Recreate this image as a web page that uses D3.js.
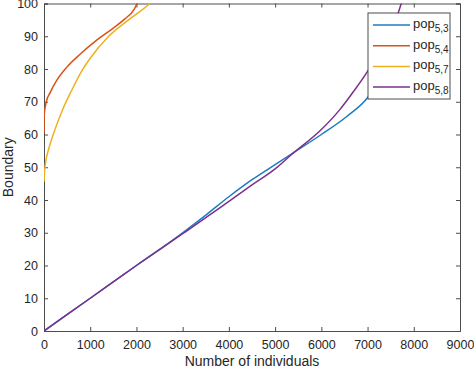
<!DOCTYPE html>
<html>
<head>
<meta charset="utf-8">
<script src="https://cdn.jsdelivr.net/npm/d3@7"></script>
<style>
  body { margin: 0; background: #fff; }
  svg { font-family: "Liberation Sans", Arial, sans-serif; }
</style>
</head>
<body>
<script>
let width = 474;
let height = 369;

// values: [individuals, boundary]
let pop53 = [[0,0],[1000,10],[2000,20],[3000,30],[3500,35.4],[4000,41],[4500,46.2],[5000,50.8],[5350,54],[6000,60],[6550,65.5],[7020,71.6],[7200,75.5]];
let pop54 = [[0,60.5],[5,66],[50,70],[130,72.7],[275,76.5],[490,80.5],[780,84.5],[1140,88.8],[1500,92.5],[1750,95.3],[1950,98.2],[2030,100.5]];
let pop57 = [[0,45.6],[20,50],[100,55.5],[200,60],[400,67.5],[600,73.5],[800,79],[1000,83.3],[1400,90],[1830,95],[2290,100],[2320,100.4]];
let pop58 = [[0,0],[1000,10],[2000,20],[3000,29.7],[3500,34.6],[4000,39.6],[4500,44.6],[5000,49.5],[5350,53.8],[6000,61.5],[6400,67.6],[6700,73.2],[7000,79.3],[7300,86.5],[7500,92],[7660,97],[7750,101]];

let seriesNames = ['5,3', '5,4', '5,7', '5,8'];
let seriesColors = ['#1a7cc4', '#d95319', '#edb120', '#7e2f8e'];
let seriesData = [pop53, pop54, pop57, pop58];

let xTicks = d3.range(0, 9001, 1000);
let yTicks = d3.range(0, 101, 10);

let plotLeft = 44, plotRight = 460, plotTop = 3.5, plotBottom = 331;

let svg = d3.select("body").append("svg").attr("width", width).attr("height", height);

let x = d3.scaleLinear().domain([0, 9000]).range([plotLeft, plotRight]);
let y = d3.scaleLinear().domain([0, 100]).range([plotBottom, plotTop]);

svg.append('clipPath').attr('id', 'plot').append('rect')
  .attr('x', plotLeft).attr('y', plotTop).attr('width', plotRight - plotLeft).attr('height', plotBottom - plotTop);

let axisColor = '#4d4d4d';
let tickLen = 4;

// x axis (bottom + mirrored top), y axis (left + mirrored right)
let xAxis = svg.append('g').attr('transform', 'translate(0,' + plotBottom + ')')
  .call(d3.axisBottom(x).tickValues(xTicks).tickSize(-tickLen).tickPadding(9).tickFormat(d3.format('d')));
let xTop = svg.append('g').attr('transform', 'translate(0,' + plotTop + ')')
  .call(d3.axisTop(x).tickValues(xTicks).tickSize(-tickLen).tickFormat(''));
let yAxis = svg.append('g').attr('transform', 'translate(' + plotLeft + ',0)')
  .call(d3.axisLeft(y).tickValues(yTicks).tickSize(-tickLen).tickPadding(6));
let yRight = svg.append('g').attr('transform', 'translate(' + plotRight + ',0)')
  .call(d3.axisRight(y).tickValues(yTicks).tickSize(-tickLen).tickFormat(''));

[xAxis, xTop, yAxis, yRight].forEach(g => {
  g.select('.domain').attr('stroke', axisColor);
  g.selectAll('.tick line').attr('stroke', axisColor);
  g.selectAll('.tick text').attr('fill', '#262626').attr('font-size', 12.5).attr('font-family', '"Liberation Sans", Arial, sans-serif');
});

let lineFunc = d3.line().x(d => x(d[0])).y(d => y(d[1])).curve(d3.curveMonotoneX);
svg.append('g').attr('clip-path', 'url(#plot)')
  .selectAll('.line').data(seriesData).enter().append('path')
  .attr('class', 'line')
  .attr('fill', 'none')
  .attr('stroke', (d, i) => seriesColors[i])
  .attr('stroke-width', 1.5)
  .attr('d', lineFunc);

// axis labels
svg.append('text').attr('x', (plotLeft + plotRight) / 2).attr('y', 366)
  .attr('text-anchor', 'middle').attr('font-size', 14).attr('fill', '#262626')
  .text('Number of individuals');
svg.append('text').attr('transform', 'translate(13,' + ((plotTop + plotBottom) / 2) + ') rotate(-90)')
  .attr('text-anchor', 'middle').attr('font-size', 14).attr('fill', '#262626')
  .text('Boundary');

// legend
let legend = svg.append('g');
legend.append('rect').attr('x', 368).attr('y', 13).attr('width', 82).attr('height', 86)
  .attr('fill', '#fff').attr('stroke', axisColor).attr('stroke-width', 1);
let rows = legend.selectAll('.row').data(seriesNames).enter().append('g')
  .attr('class', 'row')
  .attr('transform', (d, i) => 'translate(0,' + (25 + i * 20.7) + ')');
rows.append('line').attr('x1', 373).attr('x2', 410).attr('y1', 0).attr('y2', 0)
  .attr('stroke', (d, i) => seriesColors[i]).attr('stroke-width', 1.5);
let label = rows.append('text').attr('x', 413).attr('y', 3).attr('font-size', 13).attr('fill', '#262626');
label.append('tspan').text('pop');
label.append('tspan').attr('font-size', 10).attr('dy', 4).text(d => d);
</script>
</body>
</html>
